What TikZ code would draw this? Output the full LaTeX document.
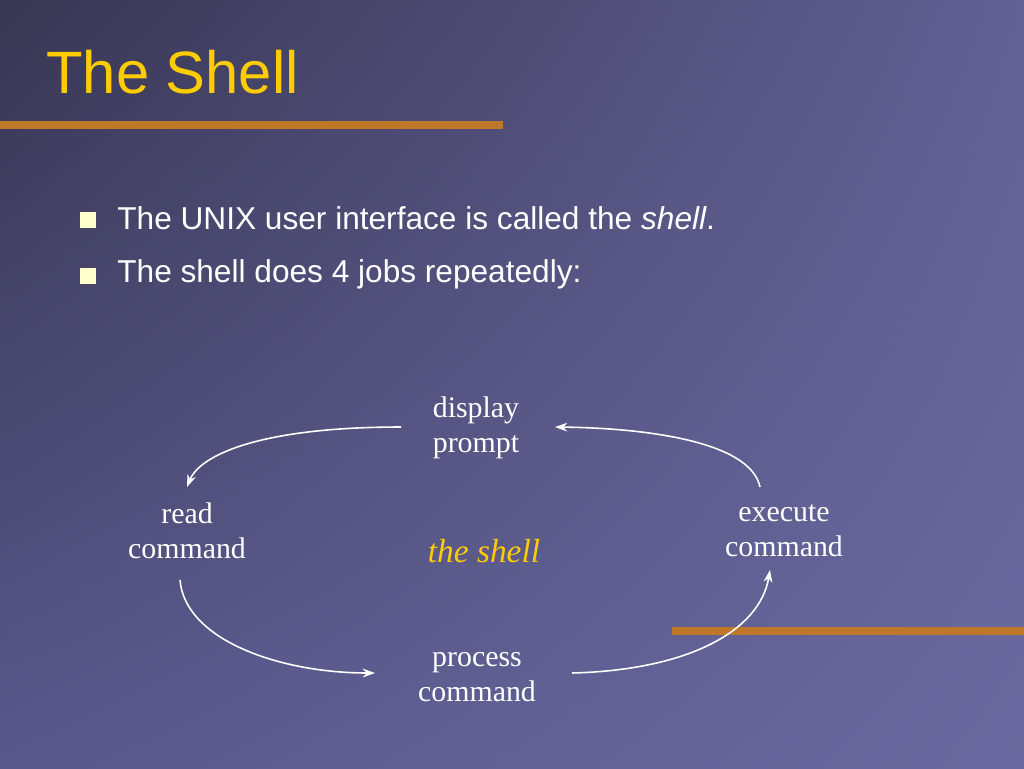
\documentclass[tikz,border=0pt]{standalone}
\usepackage{fontspec}
\setsansfont{Liberation Sans}
\setmainfont{Liberation Serif}
\usetikzlibrary{arrows.meta,shadings}
\definecolor{cUL}{RGB}{56,54,82}
\definecolor{cUR}{RGB}{98,96,148}
\definecolor{cLL}{RGB}{88,88,140}
\definecolor{cLR}{RGB}{106,106,160}
\definecolor{gold}{RGB}{255,204,0}
\definecolor{bul}{RGB}{255,255,204}
\definecolor{barc}{RGB}{190,120,40}
\begin{document}
\begin{tikzpicture}[x=0.02cm,y=-0.02cm,
  lbl/.style={text=white,font=\rmfamily\fontsize{17}{20}\selectfont,align=center,inner sep=0pt},
  arr/.style={white,line width=0.9pt,-{Stealth[length=7pt,width=5pt]}},
  bar/.style={line width=5pt,draw=barc}]
\useasboundingbox (0,0) rectangle (1024,768);
\shade[upper left=cUL,upper right=cUR,lower left=cLL,lower right=cLR] (0,0) rectangle (1024,768);
\node[anchor=west,text=gold,font=\sffamily\fontsize{34}{40}\selectfont,inner sep=0pt] (title) at (46,72) {The Shell};
\draw[bar] (0,125) -- (503,125);
\draw[bar] (672,631) -- (1024,631);
\node[fill=bul,minimum size=9pt,inner sep=0pt] (b1) at (88,220) {};
\node[fill=bul,minimum size=9pt,inner sep=0pt] (b2) at (88,276) {};
\node[anchor=west,text=white,font=\sffamily\fontsize{18}{22}\selectfont,inner sep=0pt] (t1) at (117,218) {The UNIX user interface is called the \textit{shell}.};
\node[anchor=west,text=white,font=\sffamily\fontsize{18}{22}\selectfont,inner sep=0pt] (t2) at (117,274) {The shell does 4 jobs repeatedly:};
\node[lbl] (dp) at (476,428) {display\\prompt};
\node[lbl] (rc) at (187,531) {read\\command};
\node[lbl] (ec) at (784,531) {execute\\command};
\node[lbl] (pc) at (477,677) {process\\command};
\node[lbl,text=gold,font=\rmfamily\itshape\fontsize{19}{22}\selectfont] (sh) at (484,551) {the shell};
\draw[arr] (401,427) .. controls (260,427) and (200,455) .. (187,487);
\draw[arr] (760,487) .. controls (750,440) and (640,428) .. (555,427);
\draw[arr] (180,580) .. controls (185,640) and (280,673) .. (375,673);
\draw[arr] (572,673) .. controls (690,670) and (760,630) .. (770,570);
\end{tikzpicture}
\end{document}
